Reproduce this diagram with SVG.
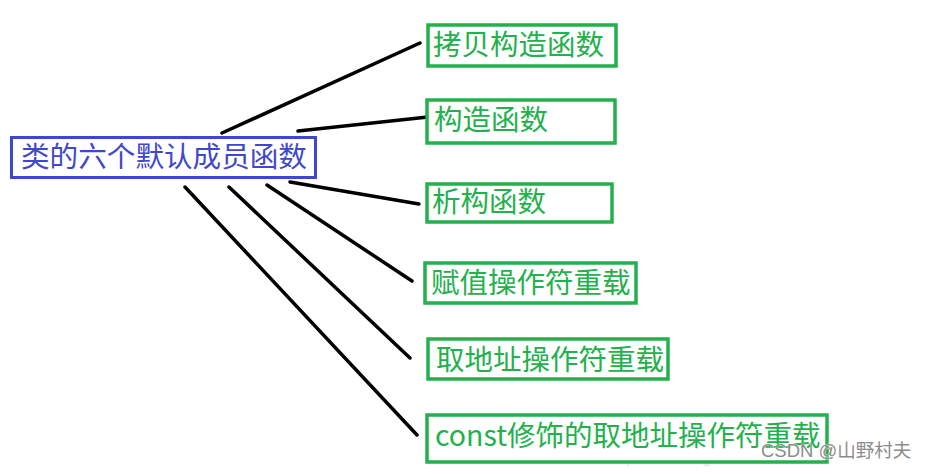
<svg xmlns="http://www.w3.org/2000/svg" width="929" height="472" viewBox="0 0 929 472">
<style>
.root rect{fill:#fff;stroke:#3f48cc;stroke-width:3}
.root text{fill:#3f48cc;font-family:"Noto Sans CJK SC","Liberation Sans",sans-serif;font-size:28.6px}
.leaf rect{fill:#fff;stroke:#22b14c;stroke-width:3.5}
.leaf text{fill:#22b14c;font-family:"Noto Sans CJK SC","Liberation Sans",sans-serif;font-size:28.5px}
#connectors line{stroke:#000;stroke-width:3.5;stroke-linecap:round}
.wm1{fill:#e2e2e2;font-family:"Liberation Mono",monospace;font-size:18px}
.wm2{fill:#8c8c8c;font-family:"Liberation Sans","Noto Sans CJK SC",sans-serif;font-size:18.5px;stroke:#fff;stroke-width:0.6;paint-order:stroke}
</style>
<rect width="929" height="472" fill="#fff"/>
<text class="wm1" x="593" y="462">http://blog.csdn.net/</text>
<g id="connectors">
<line x1="222" y1="133" x2="420" y2="43"/>
<line x1="298" y1="131" x2="428" y2="117"/>
<line x1="290" y1="182" x2="419" y2="204"/>
<line x1="267" y1="185" x2="412" y2="281"/>
<line x1="229" y1="187" x2="410" y2="358"/>
<line x1="185" y1="187" x2="417" y2="435"/>
</g>
<g id="root" class="root">
<rect x="11.5" y="137.5" width="304" height="40"/>
<text x="21" y="167">类的六个默认成员函数</text>
</g>
<g id="n1" class="leaf">
<rect x="428" y="25" width="188" height="41"/>
<text x="433" y="55">拷贝构造函数</text>
</g>
<g id="n2" class="leaf">
<rect x="427" y="100" width="188" height="43"/>
<text x="434" y="130">构造函数</text>
</g>
<g id="n3" class="leaf">
<rect x="427" y="184" width="185" height="38"/>
<text x="432" y="212">析构函数</text>
</g>
<g id="n4" class="leaf">
<rect x="425" y="263" width="211" height="40"/>
<text x="431" y="293">赋值操作符重载</text>
</g>
<g id="n5" class="leaf">
<rect x="428" y="339" width="240" height="40"/>
<text x="436" y="370">取地址操作符重载</text>
</g>
<g id="n6" class="leaf">
<rect x="427" y="415" width="400" height="47"/>
<text x="435" y="446">const修饰的取地址操作符重载</text>
</g>
<text class="wm2" x="761" y="457">CSDN @山野村夫</text>
</svg>
